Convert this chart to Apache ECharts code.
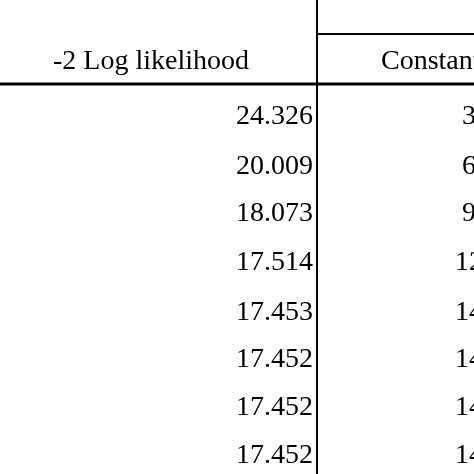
<!DOCTYPE html>
<html><head><meta charset="utf-8">
<script src="https://cdn.jsdelivr.net/npm/echarts@6/dist/echarts.min.js"></script>
<style>html,body{margin:0;padding:0;background:#fff}#c{width:474px;height:474px}</style>
</head><body><div id="c"></div>
<script>
const headers = ['-2 Log likelihood', 'Constant'];
const logLikelihood = ['24.326','20.009','18.073','17.514','17.453','17.452','17.452','17.452'];
const constantVisible = ['3','6','9','12','14','14','14','14'];
const constantLeft = [462,462,462,455,455,455,455,455];
const rowY = [117,167,214,263,313,360,408,456];
const font = '28px "Liberation Serif", "DejaVu Serif", serif';
const els = [];
els.push({type:'line',shape:{x1:317,y1:0,x2:317,y2:474},style:{stroke:'#000',lineWidth:2}});
els.push({type:'line',shape:{x1:317,y1:34,x2:474,y2:34},style:{stroke:'#000',lineWidth:2}});
els.push({type:'line',shape:{x1:0,y1:84,x2:474,y2:84},style:{stroke:'#000',lineWidth:3}});
els.push({type:'text',x:151,y:62,style:{text:headers[0],font:font,fill:'#000',textAlign:'center',textVerticalAlign:'middle'}});
els.push({type:'text',x:381,y:62,style:{text:headers[1],font:font,fill:'#000',textAlign:'left',textVerticalAlign:'middle'}});
logLikelihood.forEach((v,i)=>{
  els.push({type:'text',x:313,y:rowY[i],style:{text:v,font:font,fill:'#000',textAlign:'right',textVerticalAlign:'middle'}});
  els.push({type:'text',x:constantLeft[i],y:rowY[i],style:{text:constantVisible[i],font:font,fill:'#000',textAlign:'left',textVerticalAlign:'middle'}});
});
const chart = echarts.init(document.getElementById('c'));
chart.setOption({backgroundColor:'#fff',graphic:{elements:els}});
</script></body></html>
